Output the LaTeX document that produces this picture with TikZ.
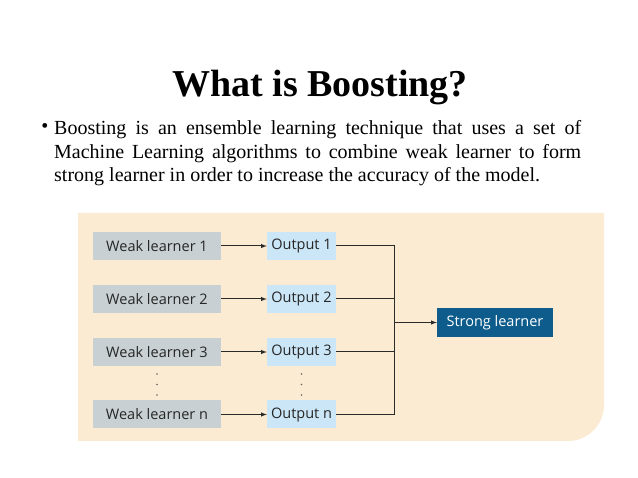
\documentclass[tikz,border=0pt]{standalone}
\usepackage{fontspec}
\setmainfont{Liberation Serif}
\newfontfamily\diag{Open Sans}
\definecolor{bgc}{HTML}{FBEBD2}
\definecolor{weakc}{HTML}{C8D0D3}
\definecolor{outc}{HTML}{CBE6F7}
\definecolor{strc}{HTML}{0D5C8C}
\definecolor{linec}{HTML}{2A2A2A}
\begin{document}
\begin{tikzpicture}[x=1pt,y=-1pt,
  box/.style={minimum height=28pt,inner sep=0pt,font=\diag\fontsize{14.5}{16}\selectfont,text=black!85},
  weak/.style={box,fill=weakc,minimum width=128pt},
  outb/.style={box,fill=outc,minimum width=69pt},
  conn/.style={draw=linec,line width=1pt},
  arr/.style={conn,-latex}]
\useasboundingbox (0,0) rectangle (638,478);
\fill[bgc] (78,213) -- (604,213) -- (604,405) to[out=-90,in=0] (568,441) -- (78,441) -- cycle;
\node[font=\bfseries\fontsize{38}{42}\selectfont] (title) at (320,88) {What is Boosting?};
\node[anchor=north west,text width=527pt,align=justify,inner sep=0pt,font=\fontsize{20}{23.8}\selectfont] (txt) at (54,120) {\hyphenpenalty=10000 Boosting is an ensemble learning technique that uses a set of\linebreak Machine Learning algorithms to combine weak learner to form\linebreak strong learner in order to increase the accuracy of the model.};
\node[font=\fontsize{20}{23.8}\selectfont,anchor=north] (bul) at (45,120) {\textbullet};
\foreach \i/\y/\t in {1/246/1,2/299/2,3/352/3,4/414.5/n}{
  \node[weak] (w\i) at (157,\y) {Weak learner \t};
  \node[outb] (o\i) at (301.5,\y) {Output \t};
  \draw[arr] (w\i) -- (o\i);
}
\node[box,fill=strc,text=white,minimum width=116pt,minimum height=29pt] (s) at (495,322.5) {Strong learner};
\coordinate (j) at (394,322.5);
\foreach \i in {1,2,3,4}{\draw[conn] (o\i.east) -| (j);}
\draw[arr] (j) -- (s);
\foreach \yy in {374,384.5,395}{
  \fill[black!60] (157,\yy) circle (0.8);
  \fill[black!60] (301.5,\yy) circle (0.8);
}
\end{tikzpicture}
\end{document}
